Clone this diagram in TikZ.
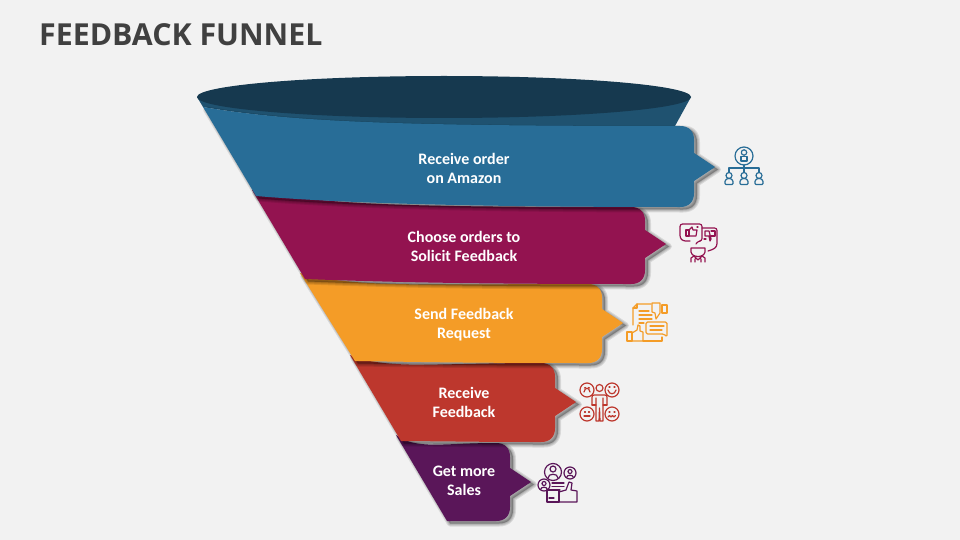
\documentclass[tikz,border=0pt]{standalone}
\usepackage{fontspec}
\setmainfont{Carlito}
\newfontfamily\titlefont{Open Sans}
\usepackage{tikz}
\usetikzlibrary{positioning}
\definecolor{pagebg}{HTML}{F2F2F2}
\definecolor{titlegrey}{HTML}{404040}
\definecolor{rimtop}{HTML}{16394F}
\definecolor{rimside}{HTML}{1F5270}
\definecolor{orderblue}{HTML}{286D97}
\definecolor{choosered}{HTML}{931350}
\definecolor{sendorange}{HTML}{F49C27}
\definecolor{feedred}{HTML}{BD372D}
\definecolor{salespurple}{HTML}{5A1659}
\tikzset{
  bandtext/.style={text=white,align=center,font=\bfseries\fontsize{16}{19}\selectfont},
  iconline/.style={line width=1.2pt,line cap=round,line join=round},
}
% one funnel band with its pointer
\newcommand{\bandpath}{(\xa,\ya) -- (\xb,\yb)
  .. controls ({\xb+84},{\yb+0.65*(\yd-\yb)}) and ({\xb+0.5*(\xr-\xb)},\yd) .. ({\xr-14},\yd)
  .. controls ({\xr-5},\yd) and (\xr,{\yd-5}) .. (\xr,{\yd-14})
  -- (\xr,{\ytip+14}) -- ({\xr+21},\ytip) -- (\xr,{\ytip-14}) -- (\xr,{\yt+14})
  .. controls (\xr,{\yt+5}) and ({\xr-5},\yt) .. ({\xr-14},\yt)
  .. controls ({\xa+0.4*(\xr-\xa)},\yt) and ({\xa+0.18*(\xr-\xa)},{\ya+15}) .. cycle}
\newcommand{\smallperson}[2]{
  \draw (#1,#2) circle (3);
  \draw[rounded corners=1pt] (#1-4,#2+9) -- (#1-4,#2+5) -- (#1-1.5,#2+3) -- (#1+1.5,#2+3) -- (#1+4,#2+5) -- (#1+4,#2+9) -- cycle;
}
\begin{document}
\begin{tikzpicture}[x=1pt,y=-1pt]
  \useasboundingbox (0,0) rectangle (960,540);
  \fill[pagebg] (0,0) rectangle (960,540);
  \node[anchor=base west,inner sep=0pt,text=titlegrey,font=\titlefont\bfseries\fontsize{30.3}{36}\selectfont] (title) at (39,46) {FEEDBACK FUNNEL};
  %side of the rim
  \fill[rimside] (197,97) -- (203,107) .. controls (290,122) and (400,126) .. (500,126) -- (675,126) -- (691,97) -- cycle;
  %bands from the bottom up
  \foreach \xa/\ya/\xb/\yb/\xr/\yt/\yd/\ytip/\bandcol in {
      396/435/447/521/510/443/521/482/salespurple,
      350/355/401/441/555/363/442/402/feedred,
      300/273/355/361/602/284/363/323/sendorange,
      252/190/305/279/645/207/284/244/choosered,
      203/107/256/196/694/126/207/167/orderblue}
  {
    \foreach \w in {6,4,2}
      \draw[draw=black,fill=black,opacity=0.1,line width=\w pt,line join=round,shift={(3pt,-2.5pt)}] \bandpath;
    \fill[\bandcol] \bandpath;
  }
  \fill[rimtop] (444,97) ellipse (247 and 21);
  %labels
  \node[bandtext] (order) at (464,168) {Receive order\\on Amazon};
  \node[bandtext] (choose) at (464,246) {Choose orders to\\Solicit Feedback};
  \node[bandtext] (send) at (464,325) {Send Feedback\\Request};
  \node[bandtext] (receive) at (464,402) {Receive\\Feedback};
  \node[bandtext] (sales) at (464,481) {Get more\\Sales};
  %org chart icon
  \begin{scope}[iconline,draw=orderblue]
    \draw (744,156) circle (9);
    \draw (744,152.5) circle (2.7);
    \draw (741,161) -- (741,156.5) -- (747,156.5) -- (747,161) -- cycle;
    \draw (744,165) -- (744,168) (729,172) -- (729,168) -- (759,168) -- (759,172) (744,168) -- (744,172);
    \smallperson{729}{175.5}
    \smallperson{744}{175.5}
    \smallperson{759}{175.5}
  \end{scope}
  %thumbs and reviewer icon
  \begin{scope}[iconline,draw=choosered]
    \draw[rounded corners=2.5pt] (690,241) -- (683,241) -- (680,238) -- (680,224) -- (702,224) -- (702,241) -- (698,241) -- (696,244);
    \draw (686,236) -- (686,230) -- (689,230) -- (689,236) -- cycle;
    \draw (689,230) -- (692,227) -- (693,230) -- (697,230) -- (696,236) -- (689,236);
    \draw (697,227) -- (698,227);
    \draw[rounded corners=2.5pt] (702,228) -- (717,228) -- (717,246) -- (714,249) -- (708,251);
    \draw (705,231) -- (709,231) -- (711,239) -- (710,241) -- (709,236) -- (705,236) -- cycle;
    \draw (711,231) -- (715,231) -- (715,236) -- (711,236);
    \draw (704,239) -- (706,239);
    \draw (691,248) -- (705,248) -- (705,252) .. controls (704,258) and (692,258) .. (691,252) -- cycle;
    \draw (691,262) -- (691,258) -- (694,256) (705,262) -- (705,258) -- (702,256) (694,256) -- (698,260) -- (702,256) (695,262) -- (695,259) (701,262) -- (701,259);
  \end{scope}
  %document and bubbles icon
  \begin{scope}[iconline,draw=sendorange]
    \draw (651,304) -- (637,304) -- (633,308) -- (633,325);
    \draw (637,304) -- (637,308) -- (633,308);
    \draw (643,341) -- (662,341) -- (662,337);
    \draw (639,311) -- (649,311) (639,315) -- (652,315) (639,319) -- (652,319) (639,323) -- (644,323);
    \draw (652,303) -- (660,303) -- (660,313) -- (656,319) -- (655,313) -- (652,312) -- cycle;
    \draw (662,305) -- (667,305) -- (667,313) -- (662,313) -- cycle;
    \draw[rounded corners=1.5pt] (646,322) -- (667,322) -- (667,337) -- (664,334) -- (646,334) -- cycle;
    \draw (650,326) -- (664,326) (650,330) -- (662,330);
    \draw (627,332) -- (632,332) -- (632,341) -- (627,341) -- cycle;
    \draw (632,333) -- (637,330) -- (638,325) -- (640,326) -- (640,331) -- (643,332) -- (643,341) -- (632,341);
  \end{scope}
  %moods icon
  \begin{scope}[iconline,draw=feedred]
    \foreach \fx/\fy in {587/390,612/390,587/414,612/414}
      \draw (\fx,\fy) circle (7);
    \draw (584,392) .. controls (585,387) and (589,387) .. (590,392);
    \draw (584.5,388) -- (585.5,387.5) (588.5,387.5) -- (589.5,388);
    \draw (608,390) .. controls (609,395) and (615,395) .. (616,390);
    \draw (609,387) -- (610,387) (614,387) -- (615,387);
    \draw (584,416) -- (590,416) (584.5,412) -- (585.5,412) (588.5,412) -- (589.5,412);
    \draw (608,417) -- (609.5,415.5) -- (611,417) -- (612.5,415.5) -- (614,417) -- (615.5,415.5);
    \draw (609,412) -- (610,412) (614,412) -- (615,412);
    \draw (599.5,388) circle (3.5);
    \draw[rounded corners=2pt] (592,405) -- (592,395) -- (607,395) -- (607,405);
    \draw (596,398) -- (596,421) -- (599,421) -- (599.5,408) -- (600,421) -- (603,421) -- (603,398);
    \draw (592,405) -- (596,405) (603,405) -- (607,405);
  \end{scope}
  %customers and thumb icon
  \begin{scope}[iconline,draw=salespurple]
    \draw (553,472) circle (8.5);
    \draw (553,469) circle (3) (548,478) .. controls (548,473) and (558,473) .. (558,478);
    \draw (570,473) circle (6);
    \draw (570,471.5) circle (2) (566.5,477.5) .. controls (567,474.5) and (573,474.5) .. (573.5,477.5);
    \draw (544,485) circle (6);
    \draw (544,483.5) circle (2) (540.5,489.5) .. controls (541,486.5) and (547,486.5) .. (547.5,489.5);
    \draw (552,483) -- (564,483) (552,486.5) -- (564,486.5) (552,490) -- (560,490);
    \draw (547,490) -- (559,490) -- (559,502) -- (547,502) -- cycle;
    \draw (549,498) -- (554,498);
    \draw (559,492) -- (566,490) -- (569,482) -- (572,483) -- (571,490) -- (577,491) -- (577,502) -- (559,502);
  \end{scope}
\end{tikzpicture}
\end{document}
